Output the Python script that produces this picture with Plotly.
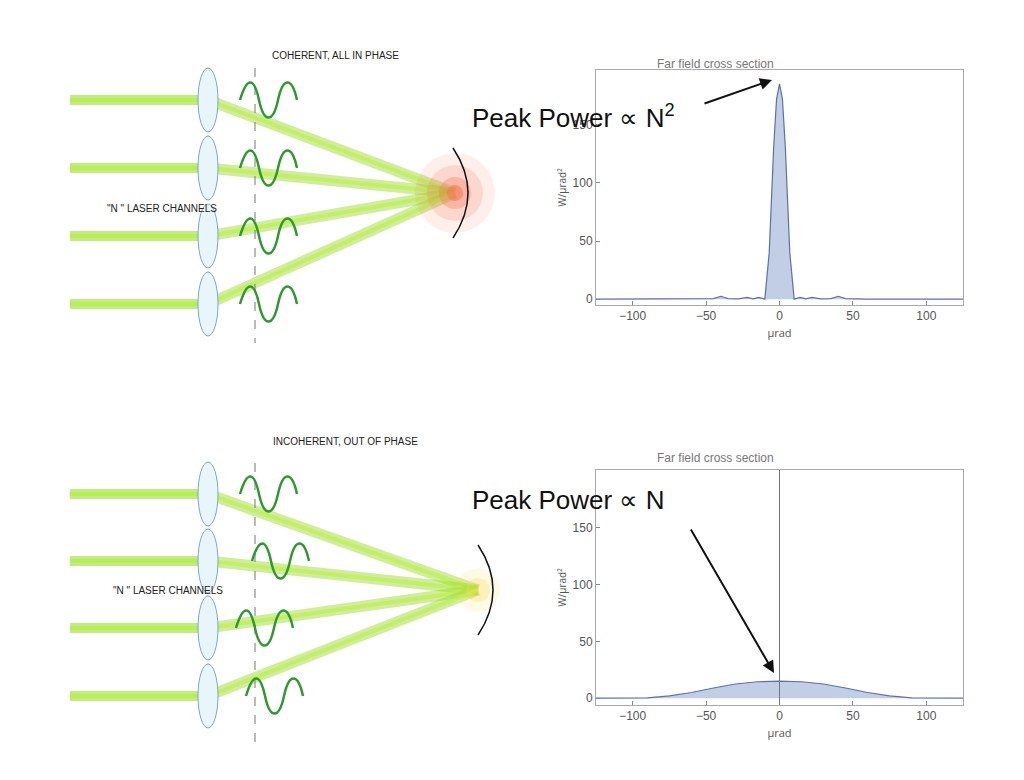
import plotly.graph_objects as go

W, H = 1024, 780
# --- data ---
top_x = [-125, -60, -45, -40, -35, -28, -22, -18, -14, -10, -7, -4, -2, 0, 2, 4, 7, 10, 14, 18, 22, 28, 35, 40, 45, 60, 125]
top_y = [0, 0, 0.5, 2.5, 0.5, 0.2, 1.5, 0.3, 1.5, 0, 40, 130, 172, 185, 172, 130, 40, 0, 1.5, 0.3, 1.5, 0.2, 0.5, 2.5, 0.5, 0, 0]
bot_x = [-125, -90, -75, -60, -45, -30, -15, 0, 15, 30, 45, 60, 75, 90, 125]
bot_y = [0, 0.3, 2, 5, 9, 12.5, 14.5, 15, 14.5, 12.5, 9, 5, 2, 0.3, 0]
x_ticks = [-100, -50, 0, 50, 100]
y_ticks = [0, 50, 100, 150]

def px(x): return x / W
def py(y): return 1 - y / H

fig = go.Figure()
fill = "rgba(120,145,200,0.45)"
line = "#5b72a8"
fig.add_trace(go.Scatter(x=top_x, y=top_y, fill="tozeroy", fillcolor=fill, line=dict(color=line, width=1.2), mode="lines", xaxis="x", yaxis="y", showlegend=False))
fig.add_trace(go.Scatter(x=bot_x, y=bot_y, fill="tozeroy", fillcolor=fill, line=dict(color=line, width=1.2), mode="lines", xaxis="x2", yaxis="y2", showlegend=False))

ax = dict(range=[-125, 125], tickvals=x_ticks, ticktext=["−100", "−50", "0", "50", "100"], showgrid=False, zeroline=False,
          showline=True, mirror=True, linecolor="#aaa", ticks="inside", ticklen=4, tickcolor="#888",
          tickfont=dict(size=12, color="#555", family="Liberation Sans"),
          title=dict(text="μrad", font=dict(size=11, color="#555"), standoff=6))
ay = dict(tickvals=y_ticks, showgrid=False, zeroline=False, showline=True, mirror=True, linecolor="#aaa",
          ticks="inside", ticklen=4, tickcolor="#888", tickfont=dict(size=12, color="#555", family="Liberation Sans"),
          title=dict(text="W/μrad²", font=dict(size=10, color="#555"), standoff=4))
fig.update_layout(
    width=W, height=H, margin=dict(l=0, r=0, t=0, b=0), plot_bgcolor="white", paper_bgcolor="white",
    xaxis=dict(ax, domain=[px(588), px(955)], anchor="y"),
    yaxis=dict(ay, domain=[py(297), py(62)], range=[-5, 197], anchor="x"),
    xaxis2=dict(ax, domain=[px(588), px(955)], anchor="y2"),
    yaxis2=dict(ay, domain=[py(697), py(462)], range=[-6, 201], anchor="x2"),
)
shapes = []
ann = []
shapes.append(dict(type="line", xref="x2", yref="y2", x0=0, x1=0, y0=-6, y1=201, line=dict(color="#777", width=1)))

def panel(beams, focus, mirror_x, dash_y, phases, glow):
    fx, fy = focus
    for by in beams:
        shapes.append(dict(type="line", xref="paper", yref="paper", x0=px(62), x1=px(200), y0=py(by), y1=py(by), line=dict(color="rgba(150,215,40,0.55)", width=10)))
        shapes.append(dict(type="line", xref="paper", yref="paper", x0=px(62), x1=px(200), y0=py(by), y1=py(by), line=dict(color="#b6f04a", width=4)))
        shapes.append(dict(type="line", xref="paper", yref="paper", x0=px(200), x1=px(fx), y0=py(by), y1=py(fy), line=dict(color="rgba(150,215,40,0.45)", width=11)))
        shapes.append(dict(type="line", xref="paper", yref="paper", x0=px(200), x1=px(fx), y0=py(by), y1=py(fy), line=dict(color="rgba(190,240,80,0.8)", width=4)))
    if glow:
        for r, op in [(40, 0.12), (28, 0.2), (16, 0.35), (8, 0.6)]:
            shapes.append(dict(type="circle", xref="paper", yref="paper", x0=px(fx - r), x1=px(fx + r), y0=py(fy - r), y1=py(fy + r),
                               fillcolor=f"rgba(245,120,90,{op})", line=dict(width=0)))
    else:
        for r, op in [(22, 0.15), (12, 0.3)]:
            shapes.append(dict(type="circle", xref="paper", yref="paper", x0=px(fx - r), x1=px(fx + r), y0=py(fy - r), y1=py(fy + r),
                               fillcolor=f"rgba(250,220,90,{op})", line=dict(width=0)))
    m = mirror_x
    shapes.append(dict(type="path", xref="paper", yref="paper",
                       path=f"M {px(m-5)},{py(fy-45)} Q {px(m+25)},{py(fy)} {px(m-5)},{py(fy+45)}", line=dict(color="#111", width=1.5)))
    shapes.append(dict(type="line", xref="paper", yref="paper", x0=px(247), x1=px(247), y0=py(dash_y[0]), y1=py(dash_y[1]), line=dict(color="#777", width=1, dash="dash")))
    for by, ph in zip(beams, phases):
        shapes.append(dict(type="circle", xref="paper", yref="paper", x0=px(190), x1=px(210), y0=py(by - 32), y1=py(by + 32),
                           fillcolor="#e8f6fb", line=dict(color="#7aa8c0", width=1)))
        x0 = 232 + ph
        a = 18
        p = (f"M {px(x0)},{py(by)} C {px(x0+7)},{py(by-a*1.3)} {px(x0+14)},{py(by-a*1.3)} {px(x0+19)},{py(by)} "
             f"S {px(x0+33)},{py(by+a*1.3)} {px(x0+38)},{py(by)} "
             f"S {px(x0+52)},{py(by-a*1.3)} {px(x0+57)},{py(by)}")
        shapes.append(dict(type="path", xref="paper", yref="paper", path=p, line=dict(color="#2e9a2e", width=2.5)))

panel([92, 160, 228, 296], (447, 185), 450, (60, 335), [0, 0, 0, 0], True)
panel([486, 553, 620, 688], (470, 582), 475, (455, 735), [0, 12, -4, 6], False)

def txt(x, y, s, size=10, color="#222"):
    ann.append(dict(x=px(x), y=py(y), xref="paper", yref="paper", text=s, showarrow=False, font=dict(size=size, color=color, family="Liberation Sans")))

txt(262, 40, "COHERENT, ALL IN PHASE")
txt(97, 193, "\"N \" LASER CHANNELS")
txt(263, 433, "INCOHERENT, OUT OF PHASE")
txt(103, 590, "\"N \" LASER CHANNELS")
txt(768, 47, "Far field cross section", 12, "#777")
txt(768, 450, "Far field cross section", 12, "#777")
txt(565, 90, "Peak Power ∝ N<sup>2</sup>", 26, "#111")
txt(560, 492, "Peak Power ∝ N", 26, "#111")
ann.append(dict(x=px(764), y=py(72), ax=-69, ay=24, xref="paper", yref="paper", axref="pixel", ayref="pixel",
                text="", showarrow=True, arrowhead=2, arrowsize=1.2, arrowwidth=2, arrowcolor="#111"))
ann.append(dict(x=px(766), y=py(665), ax=-84, ay=-145, xref="paper", yref="paper", axref="pixel", ayref="pixel",
                text="", showarrow=True, arrowhead=2, arrowsize=1.2, arrowwidth=2, arrowcolor="#111"))
fig.update_layout(shapes=shapes, annotations=ann)
fig.write_html("out.html")
